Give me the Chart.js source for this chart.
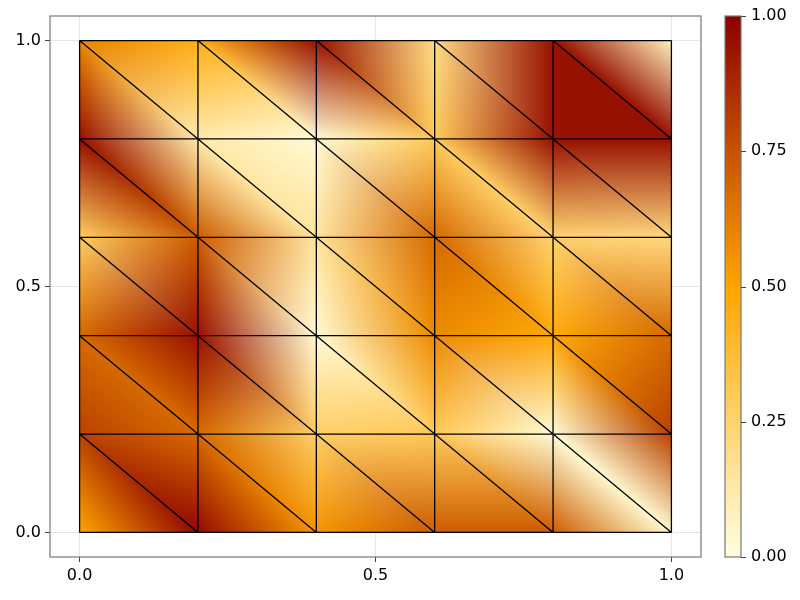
<!DOCTYPE html>
<html>
<head>
<meta charset="utf-8">
<script src="https://cdn.jsdelivr.net/npm/chart.js@4.4.0/dist/chart.umd.min.js"></script>
<style>
  body { margin: 0; background: #fff; }
</style>
</head>
<body>
<canvas id="meshChart" width="800" height="600"></canvas>
<script>
// mesh nodes
const xNodes = [0, 0.2, 0.4, 0.6, 0.8, 1.0];
const yNodes = [0, 0.2, 0.4, 0.6, 0.8, 1.0];

// value at each node, one row per y node (bottom to top)
const valuesY00 = [0.50, 0.97, 0.55, 0.72, 0.72, 0.05];
const valuesY02 = [0.80, 0.68, 0.27, 0.30, 0.03, 0.80];
const valuesY04 = [0.68, 0.95, 0.03, 0.58, 0.48, 0.68];
const valuesY06 = [0.28, 0.72, 0.15, 0.68, 0.25, 0.22];
const valuesY08 = [0.95, 0.12, 0.03, 0.30, 0.95, 0.95];
const valuesY10 = [0.60, 0.45, 0.95, 0.20, 0.95, 0.08];
const valueRows = [valuesY00, valuesY02, valuesY04, valuesY06, valuesY08, valuesY10];

const axisTicks = [0, 0.5, 1.0];
const colorbarTicks = [0, 0.25, 0.5, 0.75, 1.0];

// heat colormap: lightyellow -> orange -> darkred
const heatColors = [[255, 255, 224], [255, 165, 0], [139, 0, 0]];

function heat(v) {
  v = Math.min(1, Math.max(0, v));
  const seg = v < 0.5 ? 0 : 1;
  const t = (v - seg * 0.5) / 0.5;
  const a = heatColors[seg], b = heatColors[seg + 1];
  return [0, 1, 2].map(k => a[k] + (b[k] - a[k]) * t);
}

const nodeColors = valueRows.map(row => row.map(heat));

function findCell(nodes, v) {
  for (let i = 0; i < nodes.length - 1; i++) {
    if (v <= nodes[i + 1]) return i;
  }
  return nodes.length - 2;
}

const meshPlugin = {
  id: 'mesh',
  beforeDatasetsDraw(chart) {
    const { ctx, scales: { x, y } } = chart;
    const left = Math.floor(x.getPixelForValue(xNodes[0]));
    const right = Math.ceil(x.getPixelForValue(xNodes[xNodes.length - 1]));
    const top = Math.floor(y.getPixelForValue(yNodes[yNodes.length - 1]));
    const bottom = Math.ceil(y.getPixelForValue(yNodes[0]));
    const w = right - left + 1, h = bottom - top + 1;

    const off = document.createElement('canvas');
    off.width = w; off.height = h;
    const octx = off.getContext('2d');
    const img = octx.createImageData(w, h);

    for (let py = 0; py < h; py++) {
      const yv = y.getValueForPixel(top + py + 0.5);
      if (yv < yNodes[0] || yv > yNodes[yNodes.length - 1]) continue;
      const j = findCell(yNodes, yv);
      const v = (yv - yNodes[j]) / (yNodes[j + 1] - yNodes[j]);
      for (let px = 0; px < w; px++) {
        const xv = x.getValueForPixel(left + px + 0.5);
        if (xv < xNodes[0] || xv > xNodes[xNodes.length - 1]) continue;
        const i = findCell(xNodes, xv);
        const u = (xv - xNodes[i]) / (xNodes[i + 1] - xNodes[i]);
        let c;
        if (u + v <= 1) {
          const A = nodeColors[j][i], B = nodeColors[j][i + 1], C = nodeColors[j + 1][i];
          c = [0, 1, 2].map(k => A[k] * (1 - u - v) + B[k] * u + C[k] * v);
        } else {
          const D = nodeColors[j + 1][i + 1], C = nodeColors[j + 1][i], B = nodeColors[j][i + 1];
          const uu = 1 - u, vv = 1 - v;
          c = [0, 1, 2].map(k => D[k] * (1 - uu - vv) + C[k] * uu + B[k] * vv);
        }
        const idx = (py * w + px) * 4;
        img.data[idx] = c[0];
        img.data[idx + 1] = c[1];
        img.data[idx + 2] = c[2];
        img.data[idx + 3] = 255;
      }
    }
    octx.putImageData(img, 0, 0);
    ctx.drawImage(off, left, top);

    // triangle edges
    ctx.save();
    ctx.strokeStyle = '#000';
    ctx.lineWidth = 1.3;
    ctx.beginPath();
    const x0 = x.getPixelForValue(xNodes[0]), x1 = x.getPixelForValue(xNodes[xNodes.length - 1]);
    const y0 = y.getPixelForValue(yNodes[0]), y1 = y.getPixelForValue(yNodes[yNodes.length - 1]);
    yNodes.forEach(yv => {
      const p = y.getPixelForValue(yv);
      ctx.moveTo(x0, p); ctx.lineTo(x1, p);
    });
    xNodes.forEach(xv => {
      const p = x.getPixelForValue(xv);
      ctx.moveTo(p, y0); ctx.lineTo(p, y1);
    });
    for (let j = 0; j < yNodes.length - 1; j++) {
      for (let i = 0; i < xNodes.length - 1; i++) {
        ctx.moveTo(x.getPixelForValue(xNodes[i]), y.getPixelForValue(yNodes[j + 1]));
        ctx.lineTo(x.getPixelForValue(xNodes[i + 1]), y.getPixelForValue(yNodes[j]));
      }
    }
    ctx.stroke();
    ctx.restore();
  },
  afterDraw(chart) {
    const { ctx, chartArea, scales: { cb } } = chart;
    // axis frame
    ctx.save();
    ctx.strokeStyle = '#777';
    ctx.lineWidth = 1.2;
    ctx.strokeRect(chartArea.left, chartArea.top, chartArea.right - chartArea.left, chartArea.bottom - chartArea.top);

    // colorbar
    const barLeft = chartArea.right + 24, barWidth = 16;
    const barTop = cb.getPixelForValue(1), barBottom = cb.getPixelForValue(0);
    const grad = ctx.createLinearGradient(0, barBottom, 0, barTop);
    heatColors.forEach((c, k) => grad.addColorStop(k / (heatColors.length - 1), `rgb(${c[0]},${c[1]},${c[2]})`));
    ctx.fillStyle = grad;
    ctx.fillRect(barLeft, barTop, barWidth, barBottom - barTop);
    ctx.strokeStyle = '#777';
    ctx.strokeRect(barLeft, barTop, barWidth, barBottom - barTop);
    ctx.strokeStyle = '#444';
    ctx.lineWidth = 1;
    ctx.beginPath();
    colorbarTicks.forEach(t => {
      const p = Math.round(cb.getPixelForValue(t)) + 0.5;
      ctx.moveTo(barLeft + barWidth, p);
      ctx.lineTo(barLeft + barWidth + 5, p);
    });
    ctx.stroke();
    ctx.restore();
  }
};

Chart.defaults.font.family = 'DejaVu Sans';
Chart.defaults.font.size = 16;
Chart.defaults.color = '#000';

const points = [];
yNodes.forEach((yv, j) => xNodes.forEach((xv, i) => points.push({ x: xv, y: yv, v: valueRows[j][i] })));

const axisTickStyle = {
  padding: 4,
  maxRotation: 0,
  callback: v => v.toFixed(1)
};
const axisGrid = {
  color: '#e5e5e5',
  lineWidth: 1,
  drawTicks: true,
  tickLength: 5,
  tickColor: '#444'
};

new Chart(document.getElementById('meshChart'), {
  type: 'scatter',
  data: {
    datasets: [{
      data: points,
      pointRadius: 0,
      showLine: false
    }]
  },
  options: {
    responsive: false,
    animation: false,
    layout: { padding: { top: 16, left: 0, right: 0, bottom: 0 } },
    plugins: {
      legend: { display: false },
      tooltip: { enabled: false }
    },
    scales: {
      x: {
        type: 'linear',
        min: -0.05,
        max: 1.05,
        afterBuildTicks: s => { s.ticks = axisTicks.map(v => ({ value: v })); },
        afterFit: s => { s.height = 43; },
        grid: axisGrid,
        border: { display: false },
        ticks: axisTickStyle
      },
      y: {
        type: 'linear',
        min: -0.05,
        max: 1.05,
        afterBuildTicks: s => { s.ticks = axisTicks.map(v => ({ value: v })); },
        afterFit: s => { s.width = 50; s.paddingTop = 0; s.paddingBottom = 0; },
        grid: axisGrid,
        border: { display: false },
        ticks: axisTickStyle
      },
      cb: {
        type: 'linear',
        position: 'right',
        min: 0,
        max: 1,
        afterBuildTicks: s => { s.ticks = colorbarTicks.map(v => ({ value: v })); },
        afterFit: s => { s.width = 99; s.paddingTop = 0; s.paddingBottom = 0; },
        grid: { display: false, drawTicks: false },
        border: { display: false },
        ticks: { padding: 50, callback: v => v.toFixed(2) }
      }
    }
  },
  plugins: [meshPlugin]
});
</script>
</body>
</html>
